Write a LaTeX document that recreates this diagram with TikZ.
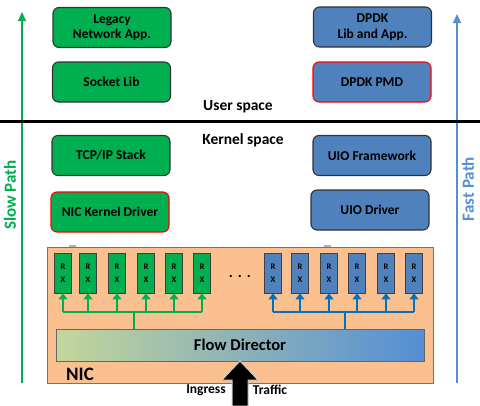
\documentclass[tikz,border=0pt]{standalone}
\usepackage{fontspec}
\setmainfont{Carlito}
\usetikzlibrary{arrows.meta}
\definecolor{offgreen}{HTML}{00B050}
\definecolor{offblue}{HTML}{4F81BD}
\definecolor{pathblue}{HTML}{558ED5}
\definecolor{arrblue}{HTML}{0070C0}
\definecolor{nicorange}{HTML}{FAC090}
\definecolor{fdgreenL}{HTML}{C3D69B}
\definecolor{fdgreenM}{HTML}{8FB05A}
\definecolor{fdblue}{HTML}{558ED5}
\tikzset{
  layerbox/.style={draw=black!80, line width=1.1pt, rounded corners=6pt, minimum width=118pt, minimum height=40pt, align=center, font=\bfseries\fontsize{13.5}{15.5}\selectfont, inner sep=0pt},
  greenbox/.style={layerbox, fill=offgreen},
  bluebox/.style={layerbox, fill=offblue},
  redborder/.style={draw=red},
  rxbox/.style={draw=black!75, line width=0.8pt, minimum width=17pt, minimum height=40pt, inner sep=0pt, align=center, font=\bfseries\fontsize{8.5}{12.5}\selectfont},
  grx/.style={rxbox, fill=offgreen},
  brx/.style={rxbox, fill=offblue},
  garrow/.style={draw=offgreen, line width=2pt, -{Triangle[length=6pt,width=9pt]}},
  gline/.style={draw=offgreen, line width=2pt},
  barrow/.style={draw=arrblue, line width=2pt, -{Triangle[length=6pt,width=9pt]}},
  bline/.style={draw=arrblue, line width=2pt},
  lbl/.style={font=\bfseries\fontsize{15.5}{17}\selectfont, inner sep=0pt},
  bottomlbl/.style={font=\bfseries\fontsize{13.5}{15}\selectfont, inner sep=0pt},
  pathlbl/.style={rotate=90, font=\bfseries\fontsize{17}{19}\selectfont, inner sep=0pt},
}
\begin{document}
\begin{tikzpicture}[x=1pt, y=-1pt]
\useasboundingbox (0,0) rectangle (480,405);
\fill[white] (0,0) rectangle (480,405);

% path arrows
\coordinate (sb) at (22,383);
\coordinate (st) at (22,12);
\draw[draw=offgreen, line width=1.2pt, -{Triangle[length=9pt,width=8pt]}] (sb) -- (st);
\coordinate (fb) at (457,383);
\coordinate (ft) at (457,14);
\draw[draw=pathblue, line width=1.2pt, -{Triangle[length=9pt,width=8pt]}] (fb) -- (ft);
\node[pathlbl, text=offgreen] (slow) at (10,195) {Slow Path};
\node[pathlbl, text=pathblue] (fast) at (468,189) {Fast Path};

% separator
\coordinate (sepL) at (0,121);
\coordinate (sepR) at (480,121);
\draw[line width=3pt] (sepL) -- (sepR);
\node[lbl] (user) at (238,107) {User space};
\node[lbl] (kernel) at (243,140) {Kernel space};

% boxes
\node[greenbox] (legacy) at (112,27.5) {Legacy\\Network App.};
\node[greenbox] (socket) at (111.5,82) {Socket Lib};
\node[bluebox] (dpdklib) at (372.5,27) {DPDK\\Lib and App.};
\node[bluebox, redborder] (pmd) at (372,82) {DPDK PMD};
\node[greenbox] (tcp) at (111,155.5) {TCP/IP Stack};
\node[greenbox, redborder] (nicdrv) at (110,212) {NIC Kernel Driver};
\node[bluebox] (uiofw) at (372,155.5) {UIO Framework};
\node[bluebox] (uiodrv) at (370,210) {UIO Driver};

% NIC
\node[draw=black!55, line width=1pt, fill=nicorange, minimum width=386pt, minimum height=136pt, inner sep=0pt] (nic) at (240,315) {};
\draw[gray!60, line width=1.5pt] (69,246) -- (76,246);
\draw[gray!60, line width=1.5pt] (324,246) -- (331,246);
\node[font=\bfseries\fontsize{19}{21}\selectfont, inner sep=0pt] (niclbl) at (80,374) {NIC};

% flow director
\shade[left color=fdgreenL, middle color=fdgreenM, right color=fdblue] (56,329) rectangle (424,361);
\node[draw=black!60, line width=0.8pt, minimum width=368pt, minimum height=32pt, inner sep=0pt, font=\bfseries\fontsize{16.5}{18}\selectfont] (fd) at (240,345) {Flow Director};

% RX queues
\foreach \i/\x in {1/63,2/88,3/117,4/146,5/174,6/202}{
  \node[grx] (g\i) at (\x,273) {R\\X};
}
\foreach \i/\x in {1/273,2/300,3/329,4/357,5/386,6/414}{
  \node[brx] (b\i) at (\x,273) {R\\X};
}
\node[font=\bfseries\fontsize{15}{16}\selectfont, inner sep=0pt] (dots) at (240,276) {.\,\,.\,\,.};

% green distribution
\coordinate (gbus) at (134,312);
\draw[gline] (fd.north -| gbus) -- (gbus);
\draw[gline] (g1.south |- gbus) -- (g6.south |- gbus);
\foreach \i in {1,...,6}{
  \draw[garrow] (g\i.south |- gbus) -- (g\i.south);
}
% blue distribution
\coordinate (bbus) at (345,312);
\draw[bline] (fd.north -| bbus) -- (bbus);
\draw[bline] (b1.south |- bbus) -- (b6.south |- bbus);
\foreach \i in {1,...,6}{
  \draw[barrow] (b\i.south |- bbus) -- (b\i.south);
}

% ingress traffic
\draw[fill=black, draw=gray!40, line width=1pt] (232,406) -- (232,380) -- (222,380) -- (240,361) -- (258,380) -- (248,380) -- (248,406) -- cycle;
\node[bottomlbl] (ingress) at (206,390) {Ingress};
\node[bottomlbl] (traffic) at (270,390) {Traffic};
\end{tikzpicture}
\end{document}
